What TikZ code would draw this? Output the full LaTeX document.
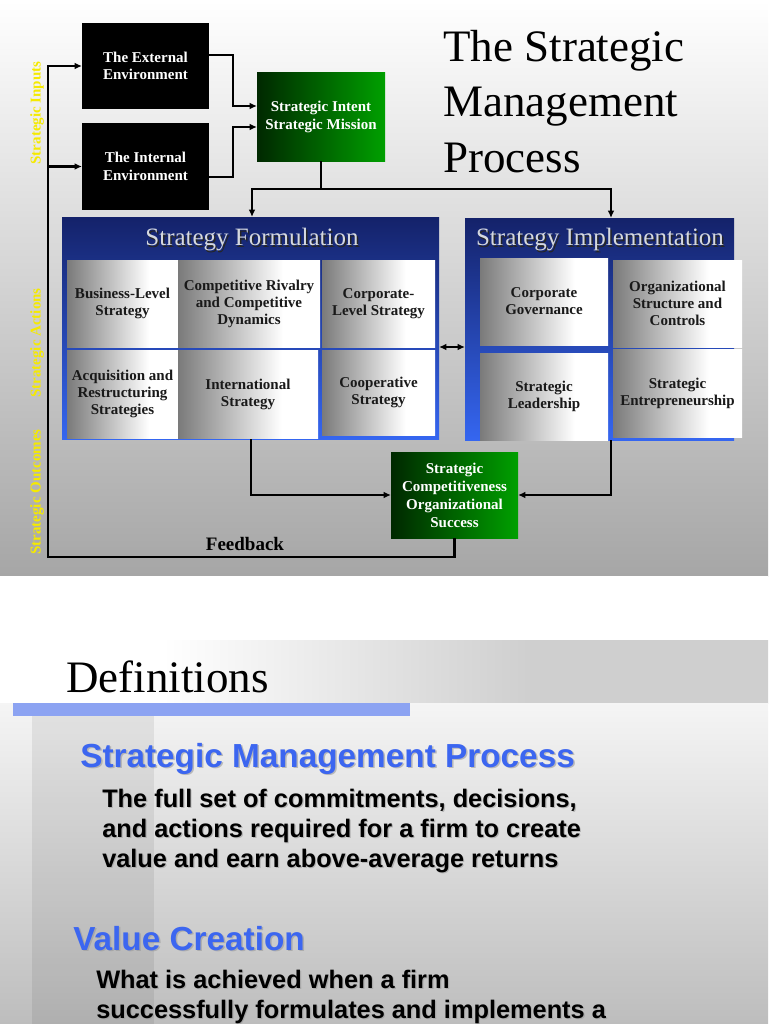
\documentclass[tikz,border=0pt]{standalone}
\usepackage{fontspec}
\setmainfont{Liberation Serif}
\setsansfont{Liberation Sans}
\usetikzlibrary{arrows.meta}
\newdimen\px \px=0.75pt
\definecolor{cellL}{HTML}{7A7A7A}
\definecolor{navy}{HTML}{14226A}
\definecolor{brightblue}{HTML}{3566F0}
\definecolor{gdark}{HTML}{002800}
\definecolor{glight}{HTML}{00A000}
\definecolor{bggray}{HTML}{A6A6A6}
\definecolor{bandgray}{HTML}{CFCFCF}
\definecolor{bodygray}{HTML}{BDBDBD}
\definecolor{lbl}{HTML}{F5EA00}
\definecolor{headblue}{HTML}{3C66F0}
\definecolor{barblue}{HTML}{8CA3F2}
\definecolor{hdtext}{HTML}{D4D8E0}
\pgfdeclarehorizontalshading{cellshade}{100bp}{color(0bp)=(cellL); color(25bp)=(cellL); color(62bp)=(white); color(100bp)=(white)}
\pgfdeclarehorizontalshading{bandshade}{100bp}{color(0bp)=(white); color(25bp)=(white); color(32bp)=(white); color(58bp)=(bandgray); color(100bp)=(bandgray)}
\begin{document}
\begin{tikzpicture}[x=0.75pt,y=-0.75pt,
  boxfont/.style={font={\fontsize{11.25}{13}\selectfont\bfseries}},
  blackbox/.style={fill=black, text=white, boxfont, align=center, anchor=north west, inner sep=0pt, outer sep=0pt},
  greenbox/.style={left color=gdark, right color=glight, text=white, align=center, anchor=north west, inner sep=0pt, outer sep=0pt,
     font={\fontsize{11.25}{13.5}\selectfont\bfseries}},
  panel/.style={top color=navy, bottom color=brightblue, anchor=north west, inner sep=0pt, outer sep=0pt},
  cellbox/.style={shading=cellshade, text=black!90, align=center, anchor=north west, inner sep=0pt, outer sep=0pt,
     font={\fontsize{11.25}{12.75}\selectfont\bfseries}},
  headtext/.style={font={\fontsize{18.75}{20}\selectfont}, text=hdtext},
  headshadow/.style={font={\fontsize{18.75}{20}\selectfont}, text=black!85},
  lblfont/.style={font={\fontsize{11.25}{12}\selectfont\bfseries}, text=lbl, rotate=90},
  titlefont/.style={font={\fontsize{33.75}{40}\selectfont}, inner sep=0pt, anchor=base west},
  conn/.style={line width=1.6pt, draw=black},
  arr/.style={conn, -{Latex[length=5.5pt,width=5pt]}},
  dblarr/.style={conn, {Latex[length=5.5pt,width=5pt]}-{Latex[length=5.5pt,width=5pt]}},
  sanshead/.style={font={\fontsize{25}{28}\selectfont\sffamily\bfseries}, inner sep=0pt, anchor=base west},
  sansbody/.style={font={\fontsize{19}{22.5}\selectfont\sffamily\bfseries}, inner sep=0pt, anchor=base west},
  shadowtxt/.style={text=black!40, opacity=0.6}
]
\useasboundingbox (0,0) rectangle (768,1024);
% ---------- backgrounds ----------
\shade[top color=white, bottom color=bggray] (0,0) rectangle (768,576);
\fill[white] (0,576) rectangle (768,1024);
\shade[shading=bandshade] (64,640) rectangle (768,703);
\shade[top color=white!96!black, bottom color=bodygray] (0,703) rectangle (768,1024);
\fill[black, opacity=0.07] (32,716) rectangle (154,1024);
\fill[barblue] (13,703) rectangle (410,716);

% ---------- title ----------
\node[titlefont] (t1) at (443,62) {The Strategic};
\node[titlefont] (t2) at (443,117) {Management};
\node[titlefont] (t3) at (443,172) {Process};

% ---------- input boxes ----------
\node[blackbox, minimum width=127\px, minimum height=86\px] (ext) at (82,23) {The External\\Environment};
\node[blackbox, minimum width=127\px, minimum height=87\px] (int) at (82,123) {The Internal\\Environment};
\node[greenbox, minimum width=128\px, minimum height=88\px] (intent) at (257,73) {Strategic Intent\\Strategic Mission};

% ---------- panels ----------
\node[panel, minimum width=377\px, minimum height=222\px] (form) at (62,217) {};
\node[panel, minimum width=269\px, minimum height=222\px] (impl) at (465,218) {};
\node[headshadow] (fhs) at (253.5,241.5) {Strategy Formulation};
\node[headtext] (fh) at (252,240) {Strategy Formulation};
\node[headshadow] (ihs) at (601.5,241.5) {Strategy Implementation};
\node[headtext] (ih) at (600,240) {Strategy Implementation};

% formulation cells
\node[cellbox, minimum width=111\px, minimum height=87\px] (c11) at (67,260) {Business-Level\\Strategy};
\node[cellbox, minimum width=142\px, minimum height=87\px] (c12) at (178,260) {Competitive Rivalry\\and Competitive\\Dynamics};
\node[cellbox, minimum width=113\px, minimum height=87\px] (c13) at (322,260) {Corporate-\\Level Strategy};
\node[cellbox, minimum width=111\px, minimum height=88\px] (c21) at (67,350) {Acquisition and\\Restructuring\\Strategies};
\node[cellbox, minimum width=140\px, minimum height=88\px] (c22) at (178,350) {International\\Strategy};
\node[cellbox, minimum width=113\px, minimum height=85\px] (c23) at (322,350) {Cooperative\\Strategy};
% implementation cells
\node[cellbox, minimum width=128\px, minimum height=87\px] (d11) at (480,258) {Corporate\\Governance};
\node[cellbox, minimum width=129\px, minimum height=87\px] (d12) at (613,260) {Organizational\\Structure and\\Controls};
\node[cellbox, minimum width=128\px, minimum height=87\px] (d21) at (480,353) {Strategic\\Leadership};
\node[cellbox, minimum width=129\px, minimum height=88\px] (d22) at (613,349) {Strategic\\Entrepreneurship};

% outcome box
\node[greenbox, minimum width=127\px, minimum height=86\px] (out) at (391,452) {Strategic\\Competitiveness\\Organizational\\Success};

% ---------- side labels ----------
\node[lblfont] (lin) at (37,113) {Strategic Inputs};
\node[lblfont] (lact) at (37,343) {Strategic Actions};
\node[lblfont] (lout) at (37,492) {Strategic Outcomes};

% ---------- connectors ----------
\draw[arr] ([yshift=11\px]ext.east) -- ++(24,0) |- ([yshift=11\px]intent.west);
\draw[arr] ([yshift=-10.5\px]int.east) -- ++(24,0) |- ([yshift=-10\px]intent.west);
\coordinate (split) at (321,189);
\draw[arr] (intent.south) -- (split) -| ([xshift=1.5\px]form.north);
\draw[arr] (split) -| ([xshift=11.5\px]impl.north);
\draw[dblarr] ([yshift=-19\px]form.east) -- ([yshift=-18\px]impl.west);
\draw[arr] ([xshift=0.5\px]form.south) |- (out.west);
\draw[arr] ([xshift=11.5\px]impl.south) |- (out.east);
\coordinate (fbL) at (48,557);
\draw[arr] (out.south) |- (fbL) |- (ext.west);
\draw[arr] (fbL |- int.west) -- (int.west);
\node[font={\fontsize{14.25}{16}\selectfont\bfseries}, anchor=base] (fb) at (245,550) {Feedback};

% ---------- definitions slide ----------
\node[titlefont] (def) at (66,692) {Definitions};

\node[sanshead, shadowtxt] (h1s) at (81.5,768.5) {Strategic Management Process};
\node[sanshead, text=headblue] (h1) at (80,767) {Strategic Management Process};
\node[sansbody, shadowtxt] (b1s) at (103.2,808.2) {The full set of commitments, decisions,};
\node[sansbody] (b1) at (102,807) {The full set of commitments, decisions,};
\node[sansbody, shadowtxt] (b2s) at (103.2,838.2) {and actions required for a firm to create};
\node[sansbody] (b2) at (102,837) {and actions required for a firm to create};
\node[sansbody, shadowtxt] (b3s) at (103.2,868.2) {value and earn above-average returns};
\node[sansbody] (b3) at (102,867) {value and earn above-average returns};

\node[sanshead, shadowtxt] (h2s) at (74.5,951.5) {Value Creation};
\node[sanshead, text=headblue] (h2) at (73,950) {Value Creation};
\node[sansbody, shadowtxt] (b4s) at (97.2,989.2) {What is achieved when a firm};
\node[sansbody] (b4) at (96,988) {What is achieved when a firm};
\node[sansbody, shadowtxt] (b5s) at (97.2,1019.2) {successfully formulates and implements a};
\node[sansbody] (b5) at (96,1018) {successfully formulates and implements a};
\end{tikzpicture}
\end{document}
